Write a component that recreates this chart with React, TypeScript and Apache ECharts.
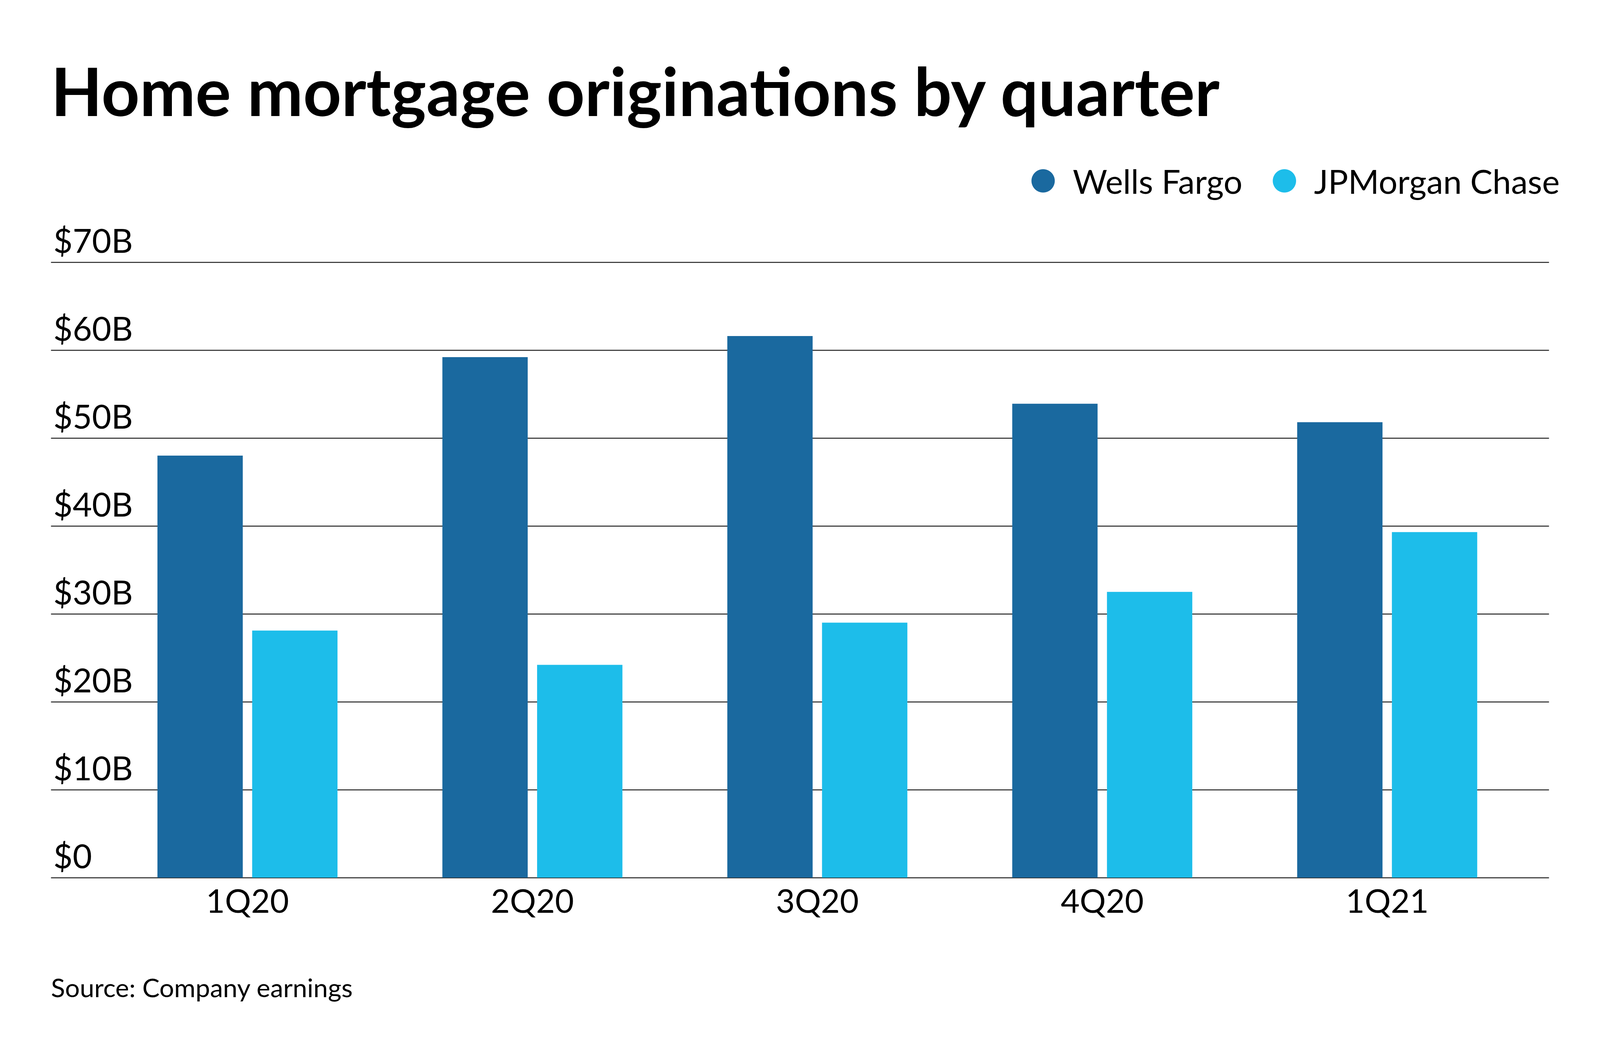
import React, { useEffect, useRef } from "react";
import * as echarts from "echarts";

// Home mortgage originations by quarter, $B
const quarters = ["1Q20", "2Q20", "3Q20", "4Q20", "1Q21"];
const wellsFargo = [48.0, 59.2, 61.6, 53.9, 51.8];
const jpMorgan = [28.1, 24.2, 29.0, 32.5, 39.3];
const seriesNames = ["Wells Fargo", "JPMorgan Chase"];
const yTicks = [0, 10, 20, 30, 40, 50, 60, 70];

const FONT = "Lato";
const DARK = "#1a699f";
const LIGHT = "#1dbdea";

const fmtTick = (v: number) => (v === 0 ? "$0" : `$${v}B`);

export default function App() {
  const ref = useRef<HTMLDivElement>(null);

  useEffect(() => {
    if (!ref.current) return;
    const chart = echarts.init(ref.current, undefined, { renderer: "svg" });

    // layout measured on the 4800x2700 reference, scaled to the real box
    const sx = ref.current.clientWidth / 4800;
    const sy = ref.current.clientHeight / 2700;
    const X = (v: number) => v * sx;
    const Y = (v: number) => v * sy;
    const F = (v: number) => v * sx;
    // Lato: alphabetic baseline sits ~0.387em below the central line
    const CENTRAL = 0.387;

    const yMax = yTicks[yTicks.length - 1];
    const gridTop = Y(671);
    const gridBottom = Y(2700 - 2246);

    chart.setOption({
      animation: false,
      backgroundColor: "#ffffff",
      textStyle: { fontFamily: FONT },
      legend: {
        data: seriesNames,
        icon: "circle",
        right: X(115),
        top: Y(458) - F(50),
        itemWidth: F(166),
        itemHeight: F(70),
        itemGap: X(91),
        textStyle: { fontFamily: FONT, fontSize: F(100), color: "#000" },
      },
      grid: [
        // gridlines + y labels span the full width
        { left: X(153), right: X(153), top: gridTop, bottom: gridBottom },
        // bars sit in a narrower band
        { left: X(315), right: X(211), top: gridTop, bottom: gridBottom },
      ],
      xAxis: [
        { type: "category", gridIndex: 0, data: quarters, show: false },
        {
          type: "category",
          gridIndex: 1,
          data: quarters,
          axisLine: { show: false },
          axisTick: { show: false },
          axisLabel: {
            fontFamily: FONT,
            fontSize: F(98),
            color: "#000",
            margin: Y(90) - CENTRAL * F(98),
            verticalAlign: "middle",
          },
        },
      ],
      yAxis: [
        {
          type: "value",
          gridIndex: 0,
          min: 0,
          max: yMax,
          interval: 10,
          axisLine: { show: false },
          axisTick: { show: false },
          splitLine: { lineStyle: { color: "#222", width: F(3) } },
          axisLabel: {
            formatter: fmtTick,
            fontFamily: FONT,
            fontSize: F(100),
            color: "#000",
            align: "left",
            verticalAlign: "bottom",
            lineHeight: 2 * (Y(24) + CENTRAL * F(100)),
            margin: X(-7),
          },
        },
        {
          type: "value",
          gridIndex: 1,
          min: 0,
          max: yMax,
          interval: 10,
          show: false,
          splitLine: { show: false },
        },
      ],
      series: [
        {
          name: seriesNames[0],
          type: "bar",
          xAxisIndex: 1,
          yAxisIndex: 1,
          data: wellsFargo,
          barWidth: X(256),
          barGap: "11%",
          itemStyle: { color: DARK },
        },
        {
          name: seriesNames[1],
          type: "bar",
          xAxisIndex: 1,
          yAxisIndex: 1,
          data: jpMorgan,
          barWidth: X(256),
          barGap: "11%",
          itemStyle: { color: LIGHT },
        },
      ],
      graphic: [
        {
          type: "text",
          left: X(153),
          top: Y(297) - (CENTRAL + 0.5) * F(200),
          style: {
            text: "Home mortgage originations by quarter",
            fontFamily: FONT,
            fontWeight: "bold",
            fontSize: F(200),
            fill: "#000",
          },
        },
        {
          type: "text",
          left: X(153),
          top: Y(2552) - (CENTRAL + 0.5) * F(78),
          style: {
            text: "Source: Company earnings",
            fontFamily: FONT,
            fontSize: F(78),
            fill: "#000",
          },
        },
      ],
    });

    return () => chart.dispose();
  }, []);

  return (
    <div
      ref={ref}
      style={{ position: "fixed", left: 0, top: 0, width: "100vw", height: "100vh" }}
    />
  );
}
